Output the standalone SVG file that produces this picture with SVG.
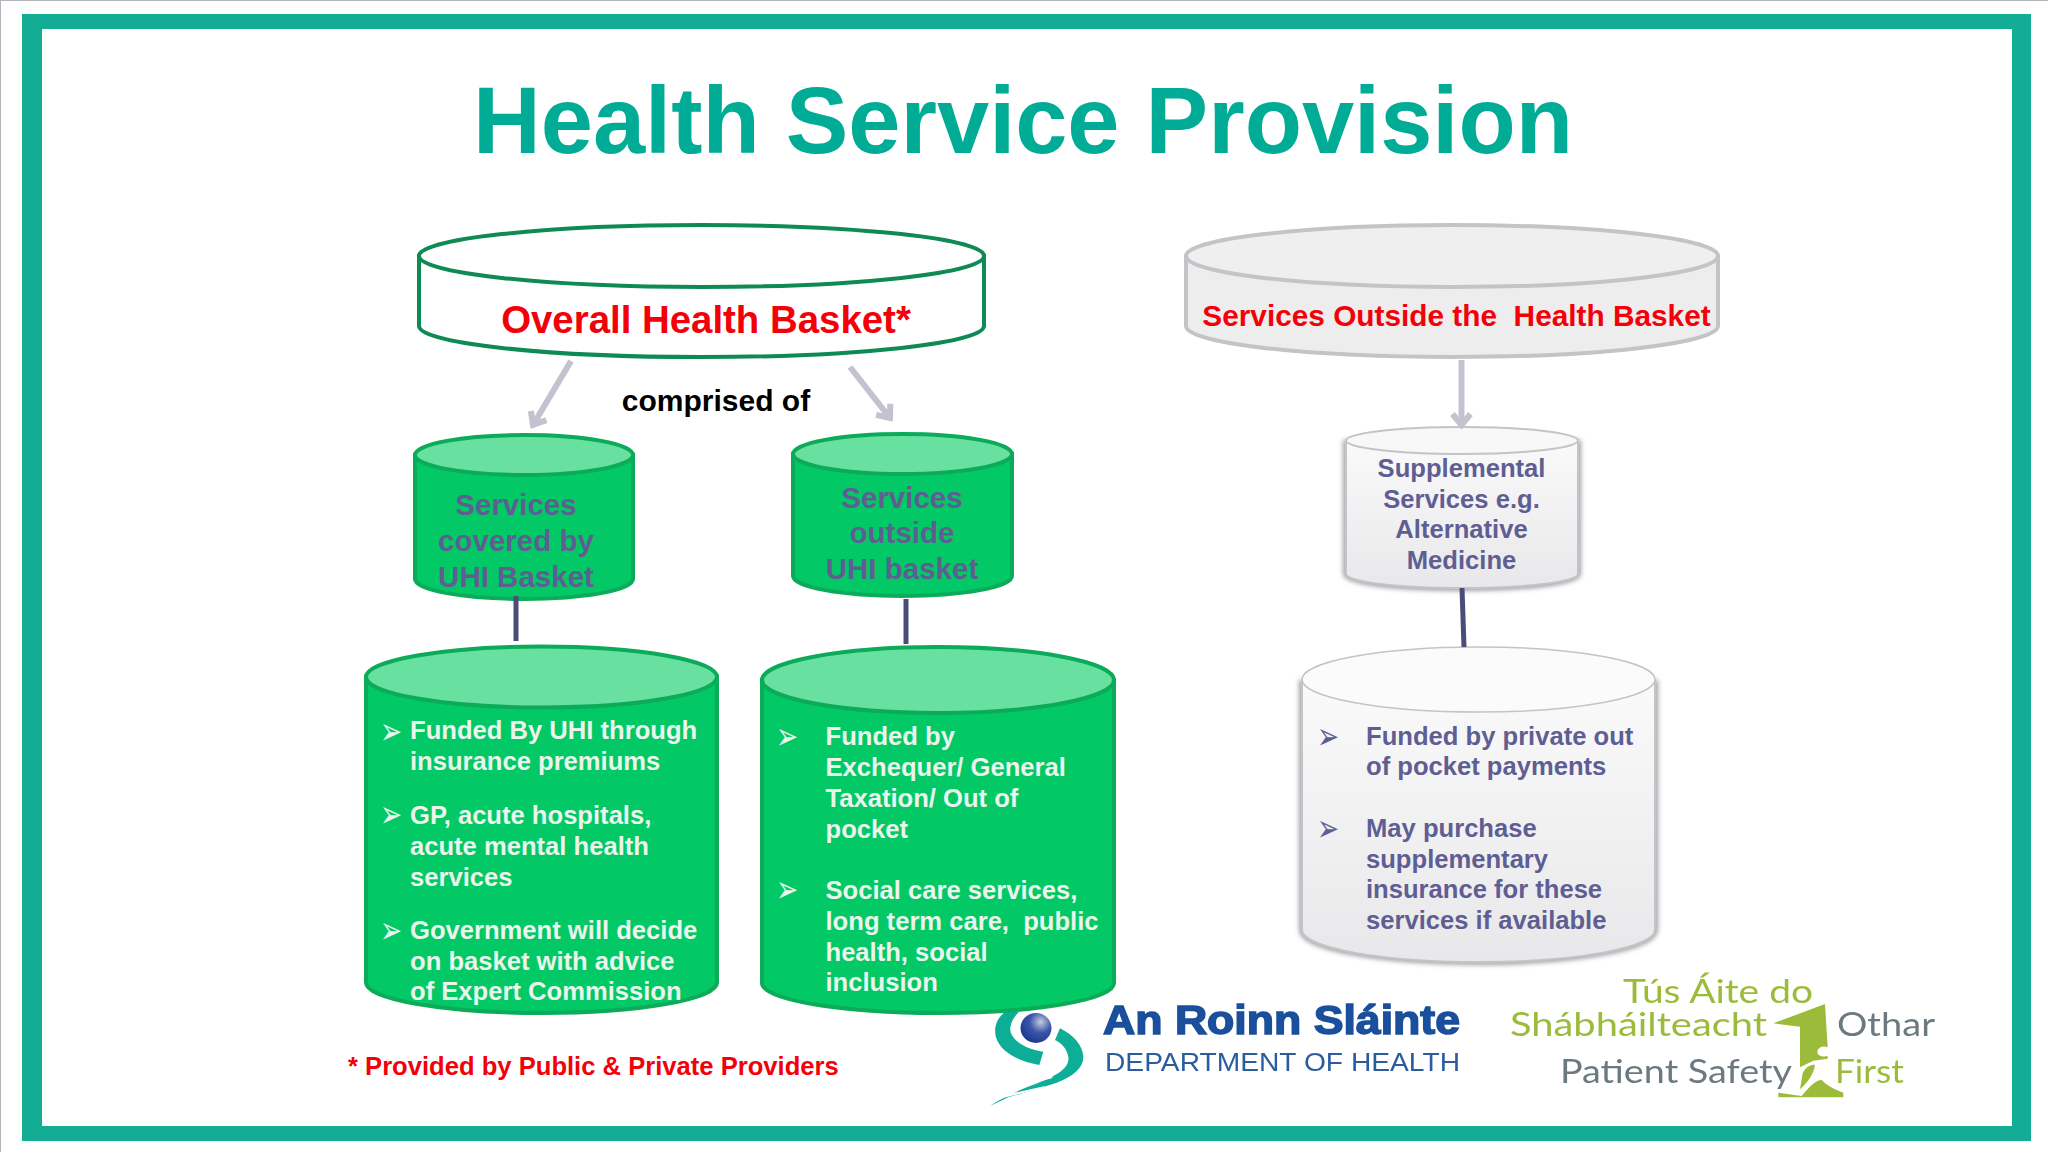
<svg xmlns="http://www.w3.org/2000/svg" width="2048" height="1152" viewBox="0 0 2048 1152">
<defs>
<style>
text{font-family:"Liberation Sans",Arial,sans-serif;font-weight:700}
.c{text-anchor:middle}
.red{fill:#f40009}
.pur{fill:#5f5e93}
.ltxt{fill:#eaf5ec;font-size:25.600px}
.gtxt{fill:#5f5e93;font-size:25.600px}
.bl{font-family:"DejaVu Sans",sans-serif;font-weight:400;font-size:22px}
.gr{fill:#02c866;stroke:#0bab5a;stroke-width:4}
.grt{fill:#68e09f;stroke:#0bab5a;stroke-width:4}
.gy{fill:url(#gyb);stroke:#c4c4c8}
.gyt{fill:#f3f3f4;stroke:#c4c4c8}
.lg{font-family:Lato,"Open Sans",sans-serif;font-weight:400;font-size:33px}
.olv{fill:#9dbb3a}
.slt{fill:#6c7a80}
</style>
<linearGradient id="gyb" x1="0" y1="0" x2="0" y2="1"><stop offset="0" stop-color="#fafafb"/><stop offset="1" stop-color="#e8e8ea"/></linearGradient>
<radialGradient id="sph" cx="0.65" cy="0.3" r="0.8"><stop offset="0" stop-color="#c5cbe0"/><stop offset="0.45" stop-color="#3b55a8"/><stop offset="1" stop-color="#16338f"/></radialGradient>
<filter id="sh" x="-10%" y="-50%" width="120%" height="200%"><feGaussianBlur stdDeviation="2.5"/></filter>
<filter id="soft" x="-5%" y="-5%" width="110%" height="110%"><feGaussianBlur stdDeviation="0.5"/></filter>
<marker id="ah" markerUnits="userSpaceOnUse" markerWidth="26" markerHeight="26" refX="22" refY="13" orient="auto"><path d="M11 4L22 13L11 22" fill="none" stroke="#c3c2d0" stroke-width="6"/></marker>
</defs>
<rect width="2048" height="1152" fill="#fff"/>
<path d="M0 0H2048M0 0V1152" stroke="#b4b4bc" stroke-width="2" fill="none"/>
<path id="frame" fill="#13ac94" fill-rule="evenodd" d="M22 14H2031V1141H22ZM42 29V1126H2012V29Z"/>
<text id="title" x="1023" y="153" class="c" font-size="93.800" fill="#00ac96">Health Service Provision</text>

<g id="logo-doh" filter="url(#soft)">
<g transform="translate(980 1000) scale(.3333)">
<path fill="#0fae98" d="M75 35C50 55 40 85 48 112C60 155 115 185 178 195L190 155C150 150 105 130 93 100C85 80 100 50 118 35Z"/>
<path fill="#0fae98" d="M240 85C280 105 308 135 310 170C310 205 280 228 230 248C190 262 140 275 85 292L30 318C60 298 100 280 140 262C170 250 200 240 225 225C255 210 268 190 265 170C260 145 245 130 225 120Z"/>
<path fill="#fff" d="M85 262L220 228L215 235L100 266ZM42 292L195 258L190 264L60 296Z"/>
</g>
<ellipse cx="1036" cy="1028" rx="15.500" ry="15" fill="url(#sph)"/>
<text x="1103" y="1034" font-size="40" fill="#1a4f9c" stroke="#1a4f9c" stroke-width="1.500" textLength="357" lengthAdjust="spacingAndGlyphs">An Roinn Sláinte</text>
<text x="1105" y="1071" font-size="26" fill="#2c5d9f" style="font-weight:400" textLength="355" lengthAdjust="spacingAndGlyphs">DEPARTMENT OF HEALTH</text>
</g>

<g id="logo-psf" filter="url(#soft)">
<text x="1623" y="1003" class="lg olv" textLength="190" lengthAdjust="spacingAndGlyphs">Tús Áite do</text>
<text x="1510" y="1036" class="lg olv" textLength="257" lengthAdjust="spacingAndGlyphs">Shábháilteacht</text>
<text x="1837" y="1036" class="lg slt" textLength="98" lengthAdjust="spacingAndGlyphs">Othar</text>
<text x="1560" y="1083" class="lg slt" textLength="232" lengthAdjust="spacingAndGlyphs">Patient Safety</text>
<text x="1835" y="1083" class="lg olv" textLength="69" lengthAdjust="spacingAndGlyphs">First</text>
<g transform="translate(1760 990) scale(.3333)" fill="#9dbb3a">
<path d="M40 100L195 42L203 172C190 165 172 172 172 186C172 198 190 202 203 198L203 206L160 212L120 232V110Z"/>
<path d="M120 298L128 250C135 235 150 222 165 225C162 250 145 275 120 298Z"/>
<path d="M55 308L125 318C145 295 165 270 185 270C200 285 215 295 250 308V322H55Z"/>
</g>
</g>

<g id="overall-basket">
<path d="M419 256V326A282 31 0 0 0 984 326V256Z" fill="#fff" stroke="#0e8a54" stroke-width="4"/>
<ellipse cx="701.500" cy="256" rx="282.500" ry="31" fill="#fff" stroke="#0e8a54" stroke-width="4"/>
<text x="706" y="333" class="c red" font-size="38.400">Overall Health Basket*</text>
</g>

<g id="outside-basket">
<path d="M1186 256V326A266 31 0 0 0 1718 326V256Z" fill="#ededee" stroke="#c4c4c8" stroke-width="4"/>
<ellipse cx="1452" cy="256" rx="266" ry="31" fill="#efeff0" stroke="#c4c4c8" stroke-width="4"/>
<text x="1456.500" y="326" class="c red" font-size="29.800" style="white-space:pre" xml:space="preserve">Services Outside the  Health Basket</text>
</g>

<text id="comprised" x="716" y="411" class="c" font-size="30" fill="#000">comprised of</text>

<g id="uhi-small">
<path class="gr" d="M415 455V579A109 20 0 0 0 633 579V455Z"/>
<ellipse class="grt" cx="524" cy="455" rx="109" ry="20"/>
<g class="pur" font-size="29.500"><text x="516" y="515" class="c">Services</text><text x="516" y="551" class="c">covered by</text><text x="516" y="587" class="c">UHI Basket</text></g>
</g>

<g id="outside-small">
<path class="gr" d="M793 454V576A109.500 20 0 0 0 1012 576V454Z"/>
<ellipse class="grt" cx="902.500" cy="454" rx="109.500" ry="20"/>
<g class="pur" font-size="29.500"><text x="902" y="508" class="c">Services</text><text x="902" y="543" class="c">outside</text><text x="902" y="579" class="c">UHI basket</text></g>
</g>

<g id="supplemental">
<path d="M1346 440V574A116 14 0 0 0 1578 574V440" fill="none" stroke="#8f8f96" stroke-width="5" filter="url(#sh)"/>
<path class="gy" stroke-width="2" d="M1346 440V574A116 14 0 0 0 1578 574V440Z"/>
<ellipse class="gyt" stroke-width="2" cx="1462" cy="440.500" rx="116" ry="13.500" style="fill:#f8f8f9"/>
<g class="pur" font-size="25.600"><text x="1461.500" y="477" class="c">Supplemental</text><text x="1461.500" y="508" class="c">Services e.g.</text><text x="1461.500" y="538" class="c">Alternative</text><text x="1461.500" y="569" class="c">Medicine</text></g>
</g>

<g id="uhi-large">
<path class="gr" d="M366 677V982.500A175.500 30.500 0 0 0 717 982.500V677Z"/>
<ellipse class="grt" cx="541.500" cy="677" rx="175.500" ry="30.500"/>
<text transform="translate(380 744) scale(1.200 1.700)" class="bl" fill="#eaf5ec">➢</text>
<text x="410" y="739" class="ltxt">Funded By UHI through</text>
<text x="410" y="770" class="ltxt">insurance premiums</text>
<text transform="translate(380 827) scale(1.200 1.700)" class="bl" fill="#eaf5ec">➢</text>
<text x="410" y="824" class="ltxt">GP, acute hospitals,</text>
<text x="410" y="855" class="ltxt">acute mental health</text>
<text x="410" y="886" class="ltxt">services</text>
<text transform="translate(380 943) scale(1.200 1.700)" class="bl" fill="#eaf5ec">➢</text>
<text x="410" y="939" class="ltxt">Government will decide</text>
<text x="410" y="970" class="ltxt">on basket with advice</text>
<text x="410" y="1000" class="ltxt">of Expert Commission</text>
</g>

<g id="outside-large">
<path class="gr" d="M762 680V983A176 30 0 0 0 1114 983V680Z"/>
<ellipse class="grt" cx="938" cy="680" rx="176" ry="33"/>
<text transform="translate(776 749) scale(1.200 1.700)" class="bl" fill="#eaf5ec">➢</text>
<text x="825.500" y="745" class="ltxt">Funded by</text>
<text x="825.500" y="776" class="ltxt">Exchequer/ General</text>
<text x="825.500" y="807" class="ltxt">Taxation/ Out of</text>
<text x="825.500" y="838" class="ltxt">pocket</text>
<text transform="translate(776 902) scale(1.200 1.700)" class="bl" fill="#eaf5ec">➢</text>
<text x="825.500" y="899" class="ltxt">Social care services,</text>
<text x="825.500" y="930" class="ltxt" style="white-space:pre" xml:space="preserve">long term care,  public</text>
<text x="825.500" y="961" class="ltxt">health, social</text>
<text x="825.500" y="991" class="ltxt">inclusion</text>
</g>

<g id="private-large">
<path d="M1302 680V930A176.500 32 0 0 0 1655 930V680" fill="none" stroke="#8f8f96" stroke-width="5" filter="url(#sh)"/>
<path class="gy" stroke-width="2" d="M1302 680V930A176.500 32 0 0 0 1655 930V680Z"/>
<ellipse class="gyt" stroke-width="1.500" cx="1478.500" cy="679.500" rx="176.500" ry="32.500" style="fill:#fbfbfc"/>
<text transform="translate(1317 749) scale(1.200 1.700)" class="bl pur">➢</text>
<text x="1366" y="745" class="gtxt">Funded by private out</text>
<text x="1366" y="775" class="gtxt">of pocket payments</text>
<text transform="translate(1317 841) scale(1.200 1.700)" class="bl pur">➢</text>
<text x="1366" y="837" class="gtxt">May purchase</text>
<text x="1366" y="868" class="gtxt">supplementary</text>
<text x="1366" y="898" class="gtxt">insurance for these</text>
<text x="1366" y="929" class="gtxt">services if available</text>
</g>

<text id="footnote" x="348" y="1075" class="red" font-size="25.600">* Provided by Public &amp; Private Providers</text>

<g id="connectors" fill="none">
<g stroke="#c3c2d0" stroke-width="6">
<path d="M571 361L533 425" marker-end="url(#ah)"/>
<path d="M850 367L890 418" marker-end="url(#ah)"/>
<path d="M1461.500 360V425" marker-end="url(#ah)"/>
</g>
<g stroke="#4c4c78" stroke-width="5">
<path d="M516 596V641"/>
<path d="M906 599V644"/>
<path d="M1462 588L1464 647"/>
</g>
</g>
</svg>
